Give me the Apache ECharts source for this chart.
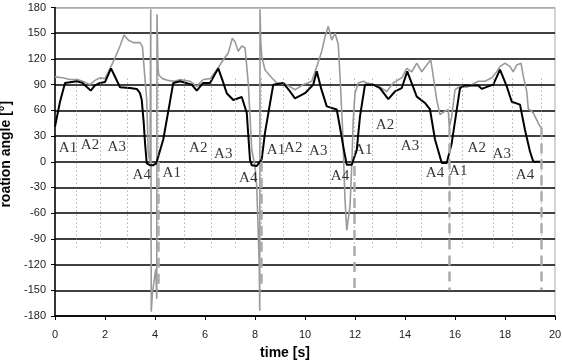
<!DOCTYPE html>
<html><head><meta charset="utf-8">
<script src="https://cdn.jsdelivr.net/npm/echarts@6/dist/echarts.min.js"></script>
<style>html,body{margin:0;padding:0;background:#fff}#c{width:563px;height:364px}</style>
</head><body><div id="c"></div>
<script>
var xTicks = [0,2,4,6,8,10,12,14,16,18,20];
var yTicks = [-180,-150,-120,-90,-60,-30,0,30,60,90,120,150,180];

var blackT = [0,0.2,0.4,0.87,1.1,1.43,1.6,1.8,2.0,2.24,2.42,2.6,3.0,3.27,3.4,3.47,3.55,3.6,3.67,3.8,3.93,4.05,4.13,4.33,4.55,4.73,5.0,5.47,5.67,5.93,6.2,6.53,6.7,6.87,7.13,7.47,7.67,7.8,7.87,8.07,8.27,8.4,8.73,9.13,9.35,9.6,10.0,10.33,10.47,10.65,10.87,11.27,11.4,11.53,11.67,11.87,12.07,12.2,12.4,12.73,13.0,13.33,13.6,13.87,14.09,14.47,14.8,15.0,15.2,15.47,15.67,15.87,16.2,16.4,16.93,17.07,17.33,17.53,17.8,18.07,18.27,18.6,18.8,19.0,19.13,19.4];
var blackY = [41,70,92,94,92,83,89,92,93,109,98,87,86,85,80,72,45,22,-2,-4,-4,-2,-1,26,62,92,94,90,83,92,92,109,95,80,72,75.5,57,2,-4,-5,3,34,90,92,84,74,80,90,105.5,85,64.6,61,40,18,-3.5,-3.5,14,53,90,90,86,73,82,86,105.5,76,68.6,61,26,-1.5,-1.5,22,86,89,89,85,88,90,107.5,88,70,66.6,37,12,0.3,0];

var grayT = [0,0.3,0.6,0.9,1.1,1.4,1.6,1.8,2.0,2.2,2.4,2.6,2.76,2.93,3.13,3.4,3.5,3.56,3.67,3.73,3.8,3.83,3.85,3.9,3.97,4.03,4.07,4.08,4.12,4.15,4.3,4.5,4.8,5.0,5.4,5.67,5.93,6.2,6.47,6.73,6.93,7.09,7.2,7.33,7.47,7.6,7.67,7.73,7.8,7.87,8.0,8.07,8.13,8.17,8.19,8.2,8.23,8.27,8.4,8.67,8.87,9.27,9.6,9.93,10.27,10.47,10.67,10.8,10.93,11.07,11.2,11.33,11.4,11.5,11.6,11.67,11.8,11.87,11.93,12.0,12.13,12.33,12.47,12.73,13.0,13.27,13.53,13.87,14.07,14.27,14.47,14.67,14.87,15.03,15.13,15.27,15.4,15.6,15.73,15.77,15.87,16.0,16.2,16.47,16.93,17.2,17.47,17.67,17.8,18.0,18.2,18.33,18.47,18.64,18.73,18.87,18.93,19.13,19.33,19.43];
var grayY = [99,98,96,96,94,90,95,98,97,109,121,135,148,142,139,139,134,111,72,10,0,178,-175,-152,-138,-125,-160,172,110,101,97,95,94,96,94,88,96,97,107,119,127,144,140,129,135,133,111,92,53,14,-5,-29,-83,-122,-174,178,140,123,107,98,92,90,84,90,94,111,129,146,158,142,150,137,100,40,-44,-80,-52,-5,49,80,92,94,92,90,87,82,92,98,109,105,115,105,113,119,100,72,55,59,61,40,53,84,88,87,94,94,98,105,111,115,111,105,113,115,100,82,62,57,45,40];

var dottedT = [0.84,1.8,2.88,4.12,5.16,6.23,7.2,8.25,9.12,10.12,11.0,11.95,12.7,13.64,14.64,15.77,16.3,17.53,18.27,19.43];
var dottedTop = 97, dottedBottom = -100;

var dashedT = [4.12,8.25,11.95,15.77,19.43];
var dashedTop = [0,0,-5,40,40];
var dashedBottom = -150;

var labelNames = ['A1','A2','A3','A4','A1','A2','A3','A4','A1','A2','A3','A4','A1','A2','A3','A4','A1','A2','A3','A4'];
var labelT = [0.52,1.4,2.47,3.47,4.67,5.73,6.73,7.73,8.84,9.53,10.53,11.4,12.33,13.2,14.2,15.2,16.13,16.87,17.87,18.8];
var labelY = [16,19,17,-15,-13,16,9,-19,14,16,12,-17,14,43,18,-13,-11,16,9,-15];

function pairs(t, y){ return t.map(function(v,i){return [v, y[i]];}); }

var chart = echarts.init(document.getElementById('c'), null, {renderer:'canvas'});
var splitColors = yTicks.map(function(v){ return v === 180 ? '#aaa' : '#000'; });

chart.setOption({
  animation: false,
  backgroundColor: '#fff',
  grid: {left: 55, right: 8, top: 7.5, bottom: 48, containLabel: false, outerBoundsMode: 'none', show: true, borderColor: '#aaa', borderWidth: 1, backgroundColor: 'transparent'},
  xAxis: {
    type: 'value', min: xTicks[0], max: xTicks[xTicks.length-1], interval: 2,
    name: 'time [s]', nameLocation: 'middle', nameGap: 30,
    nameTextStyle: {fontFamily: 'Liberation Sans', fontWeight: 'bold', fontSize: 14, color: '#000', padding: [0,40,0,0]},
    axisLine: {show: true, onZero: false, lineStyle: {color: '#000', width: 1.5}},
    axisTick: {show: true, length: 4, lineStyle: {color: '#000', width: 1}},
    axisLabel: {margin: 13, fontFamily: 'Liberation Sans', fontSize: 11, color: '#222'},
    splitLine: {show: false}
  },
  yAxis: {
    type: 'value', min: yTicks[0], max: yTicks[yTicks.length-1], interval: 30,
    name: 'roation angle [°]', nameLocation: 'middle', nameGap: 36,
    nameTextStyle: {fontFamily: 'Liberation Sans', fontWeight: 'bold', fontSize: 14, color: '#000', padding: [0,0,0,15]},
    axisLine: {show: true, onZero: false, lineStyle: {color: '#000', width: 1.5}},
    axisTick: {show: true, length: 4, lineStyle: {color: '#000', width: 1}},
    axisLabel: {margin: 9, fontFamily: 'Liberation Sans', fontSize: 11, color: '#222'},
    splitLine: {show: true, lineStyle: {color: splitColors, width: 1.5}}
  },
  series: [
    {
      type: 'line', data: [], silent: true, z: 1,
      markLine: {
        silent: true, symbol: 'none', animation: false, label: {show: false},
        lineStyle: {color: '#888', width: 1, type: [1,3]},
        data: dottedT.map(function(t){ return [{coord:[t, dottedTop]},{coord:[t, dottedBottom]}]; })
      }
    },
    {
      type: 'line', data: [], silent: true, z: 2,
      markLine: {
        silent: true, symbol: 'none', animation: false, label: {show: false},
        lineStyle: {color: '#aaa', width: 2.5, type: [10,6]},
        data: dashedT.map(function(t,i){ return [{coord:[t, dashedTop[i]]},{coord:[t, dashedBottom]}]; })
      }
    },
    {
      type: 'line', data: pairs(grayT, grayY), showSymbol: false, z: 3,
      lineStyle: {color: '#9a9a9a', width: 1.6}
    },
    {
      type: 'line', data: pairs(blackT, blackY), showSymbol: false, z: 4,
      lineStyle: {color: '#000', width: 2}
    },
    {
      type: 'scatter', z: 5, symbolSize: 1, itemStyle: {color: 'transparent'},
      data: labelNames.map(function(n,i){ return {name: n, value: [labelT[i], labelY[i]]}; }),
      label: {show: true, position: 'inside', formatter: '{b}', fontFamily: 'Liberation Serif', fontSize: 15, color: '#000'}
    }
  ]
});
</script>
</body></html>
